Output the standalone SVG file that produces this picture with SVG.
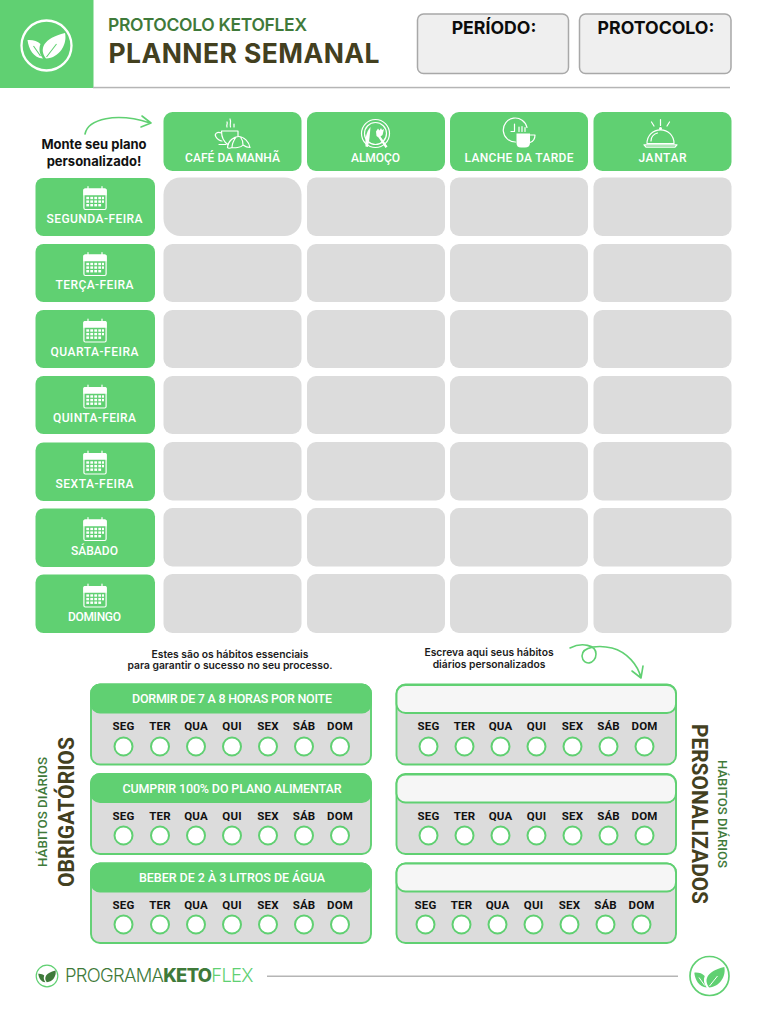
<svg xmlns="http://www.w3.org/2000/svg" width="768" height="1024" viewBox="0 0 768 1024">
<style>
.g{fill:#60d072}
.cell{fill:#dcdcdc}
.tag{fill:#60d072}
.box{fill:#efefef;stroke:#a8a8a8;stroke-width:1.5}
.lbl{font-family:"Roboto","Liberation Sans",sans-serif;font-weight:500;font-size:12px;fill:#fff;text-anchor:middle}
.hab{font-family:"Roboto","Liberation Sans",sans-serif;font-weight:500;font-size:12.5px;fill:#fff;text-anchor:middle}
.d{font-family:"Roboto","Liberation Sans",sans-serif;font-weight:700;font-size:11.5px;fill:#111;text-anchor:middle;letter-spacing:.2px}
.note{font-family:"Inter","Liberation Sans",sans-serif;font-weight:600;font-size:10.3px;fill:#1c1c1c;text-anchor:middle}
.note2{font-family:"Inter","Liberation Sans",sans-serif;font-weight:700;font-size:13px;fill:#111;text-anchor:middle}
.top{font-family:"Inter","Liberation Sans",sans-serif;font-weight:700;font-size:17.7px;fill:#0c0c0c;text-anchor:middle}
.side{font-family:"Roboto","Liberation Sans",sans-serif;font-weight:700;font-size:22.5px;fill:#43401f}
.side2{font-family:"Roboto","Liberation Sans",sans-serif;font-weight:500;font-size:13.5px;fill:#3f7a3a}
.panel{fill:#dcdcdc;stroke:#60d072;stroke-width:1.9}
.hd{fill:#60d072;stroke:#60d072;stroke-width:1.9}
.hc{fill:#f6f6f6;stroke:#60d072;stroke-width:1.9}
.c{fill:#fff;stroke:#60d072;stroke-width:2}
.ic{fill:none;stroke:#fff;stroke-width:1.2;stroke-linecap:round;stroke-linejoin:round}
.icf{fill:#fff}
.arrow{fill:none;stroke:#60d072;stroke-width:1.6;stroke-linecap:round;stroke-linejoin:round}
</style>
<defs>
<g id="cal">
<path class="icf" d="M-11.700 -8.500Q-11.700 -10 -10.200 -10H10.200Q11.700 -10 11.700 -8.500V-3.300H-11.700Z"/>
<rect class="ic" x="-11.100" y="-9.400" width="22.200" height="20.400" rx="1.500"/>
<path class="ic" d="M-7 -12V-9M7 -12V-9"/>
<g class="icf">
<rect x="-8.700" y="-1.700" width="2.800" height="2.400"/><rect x="-4.700" y="-1.700" width="2.800" height="2.400"/><rect x="-.7" y="-1.700" width="2.800" height="2.400"/><rect x="3.300" y="-1.700" width="2.800" height="2.400"/><rect x="7" y="-1.700" width="2" height="2.400"/>
<rect x="-8.700" y="1.900" width="2.800" height="2.400"/><rect x="-4.700" y="1.900" width="2.800" height="2.400"/><rect x="-.7" y="1.900" width="2.800" height="2.400"/><rect x="3.300" y="1.900" width="2.800" height="2.400"/><rect x="7" y="1.900" width="2" height="2.400"/>
<rect x="-8.700" y="5.500" width="2.800" height="2.400"/><rect x="-4.700" y="5.500" width="2.800" height="2.400"/><rect x="-.7" y="5.500" width="2.800" height="2.400"/><rect x="3.300" y="5.500" width="2.800" height="2.400"/>
</g>
</g>
<g id="leaves">
<path d="M-.5 12.500C-8 3 -3 -8 18.500 -13C21 -2 13 12 -.5 12.500Z"/>
<path d="M-3.500 12.500C-13 12 -18 3 -19 -6C-14 -6.500 -9 -5 -6 -2C-8 3 -7 8 -3.500 12.500Z"/>
</g>
</defs>

<g id="header">
<rect class="g" x="0" y="0" width="93.500" height="88"/>
<circle cx="46.500" cy="45.500" r="25" fill="none" stroke="#fff" stroke-width="2.300"/>
<use href="#leaves" transform="translate(46.500,46)" fill="#fff"/>
<path d="M46.500 57L56.500 44M40.500 56L33.500 46" stroke="#60d072" stroke-width="1.100" fill="none"/>
<rect x="93" y="86.800" width="637" height="1.500" fill="#b5b5b5"/>
<text x="108" y="31" font-family="Inter, 'Liberation Sans', sans-serif" font-weight="600" font-size="17.500" fill="#3f7a3a" textLength="199">PROTOCOLO KETOFLEX</text>
<text x="108.500" y="62.500" font-family="Inter, 'Liberation Sans', sans-serif" font-weight="700" font-size="26.500" fill="#43401f" textLength="271">PLANNER SEMANAL</text>
</g>
<g id="periodo"><rect class="box" x="417.500" y="14" width="151" height="59.500" rx="6"/><text class="top" x="494" y="34">PERÍODO:</text></g>
<g id="protocolo"><rect class="box" x="579.500" y="14" width="151.500" height="59.500" rx="6"/><text class="top" x="656" y="34">PROTOCOLO:</text></g>

<g id="monte-note"><text class="note2" x="94" y="149">Monte seu plano</text><text class="note2" x="94" y="166">personalizado!</text></g>

<g id="col-cafe">
<rect class="tag" x="163.500" y="112" width="138" height="59" rx="9"/>
<path class="ic" d="M221.500 131H238V136M221.500 131C221.500 137 224 142 228 144.500M219 144.500H226M221.500 133C217 131 214 134 216 137C217 139 220 141 222 141"/>
<path class="ic" d="M227 127C226 125 228 124 227 122M230.500 127C229.500 124 231.500 122 230 119M234 127V124"/>
<path class="ic" d="M227.500 147.500C228 141 234 136.500 238.500 136.500C244 136.500 249 142 250 147.500C248 147.500 245 146.500 243 145C241 147.800 234 148 232 147.500C230 148.500 228 148.500 227.500 147.500ZM232 147.500C232 143 234 140 236 137M243 145C243 142 242 139 240.500 137"/>
<text class="lbl" x="232.500" y="162" textLength="95">CAFÉ DA MANHÃ</text>
</g>
<g id="col-almoco">
<rect class="tag" x="307" y="112" width="138" height="59" rx="9"/>
<circle class="ic" cx="375.500" cy="133.500" r="14"/><circle class="ic" cx="375.500" cy="133.500" r="11"/>
<path class="icf" d="M370.500 127C366 132 365 139 365.500 146.500L368 147L369.500 138Z"/>
<path class="icf" d="M376 131.500L378 128.500L379.500 130.500L381 128L382 130L384 129L382.500 135L380.500 136.500L387.500 146.500L385.500 148L378.500 137.500L376.500 136Z"/>
<text class="lbl" x="375.500" y="162" textLength="49">ALMOÇO</text>
</g>
<g id="col-lanche">
<rect class="tag" x="450" y="112" width="138" height="59" rx="9"/>
<path class="ic" d="M515.500 142A12 12 0 1 1 527 127.500M514.500 124V131.500H511M519 127V131.500M522 126.500V131.500M525 127.500V131.500"/>
<path class="icf" d="M516.500 133.500H530V143C530 146 528 147.500 525 147.500H521C518 147.500 516.500 146 516.500 143Z"/>
<path class="ic" d="M530 135H535C535 139 533 141.500 530 142.500"/>
<text class="lbl" x="519" y="162" textLength="109">LANCHE DA TARDE</text>
</g>
<g id="col-jantar">
<rect class="tag" x="593.500" y="112" width="138" height="59" rx="9"/>
<path class="ic" d="M647 143.500C647 135.500 653 129.800 660.500 129.800C668 129.800 674 135.500 674 143.500ZM644 144.800H677L675 147.200H646ZM651 141C651 137 654 134 657.500 133"/>
<path class="ic" d="M660.500 119.500V125.500M651.500 122L654 126M669.500 122L667 126"/>
<circle class="icf" cx="660.500" cy="128.500" r="1.500"/>
<text class="lbl" x="662.500" y="162" textLength="48">JANTAR</text>
</g>

<g id="day-segunda"><rect class="tag" x="35.500" y="178" width="119.500" height="58" rx="8"/><use href="#cal" transform="translate(95,198.500)"/><text class="lbl" x="94.500" y="223" textLength="96">SEGUNDA-FEIRA</text></g>
<g id="day-terca"><rect class="tag" x="35.500" y="244" width="119.500" height="58" rx="8"/><use href="#cal" transform="translate(95,264.500)"/><text class="lbl" x="94.500" y="289" textLength="78">TERÇA-FEIRA</text></g>
<g id="day-quarta"><rect class="tag" x="35.500" y="310" width="119.500" height="58" rx="8"/><use href="#cal" transform="translate(95,331)"/><text class="lbl" x="94.500" y="356" textLength="88">QUARTA-FEIRA</text></g>
<g id="day-quinta"><rect class="tag" x="35.500" y="376" width="119.500" height="58" rx="8"/><use href="#cal" transform="translate(95,397)"/><text class="lbl" x="94.500" y="421.500" textLength="83">QUINTA-FEIRA</text></g>
<g id="day-sexta"><rect class="tag" x="35.500" y="442.500" width="119.500" height="58.500" rx="8"/><use href="#cal" transform="translate(95,463)"/><text class="lbl" x="94.500" y="488" textLength="78">SEXTA-FEIRA</text></g>
<g id="day-sabado"><rect class="tag" x="35.500" y="508.500" width="119.500" height="58.500" rx="8"/><use href="#cal" transform="translate(95,529.500)"/><text class="lbl" x="94.500" y="555" textLength="47">SÁBADO</text></g>
<g id="day-domingo"><rect class="tag" x="35.500" y="574.500" width="119.500" height="58.500" rx="8"/><use href="#cal" transform="translate(95,596)"/><text class="lbl" x="94.500" y="621" textLength="53">DOMINGO</text></g>

<g id="cells">
<rect class="cell" x="163.500" y="177.500" width="138" height="58.500" rx="17"/><rect class="cell" x="307" y="177.500" width="138" height="58.500" rx="9"/><rect class="cell" x="450" y="177.500" width="138" height="58.500" rx="9"/><rect class="cell" x="593.500" y="177.500" width="138" height="58.500" rx="9"/>
<rect class="cell" x="163.500" y="244" width="138" height="58" rx="9"/><rect class="cell" x="307" y="244" width="138" height="58" rx="9"/><rect class="cell" x="450" y="244" width="138" height="58" rx="9"/><rect class="cell" x="593.500" y="244" width="138" height="58" rx="9"/>
<rect class="cell" x="163.500" y="310" width="138" height="58" rx="9"/><rect class="cell" x="307" y="310" width="138" height="58" rx="9"/><rect class="cell" x="450" y="310" width="138" height="58" rx="9"/><rect class="cell" x="593.500" y="310" width="138" height="58" rx="9"/>
<rect class="cell" x="163.500" y="376" width="138" height="58" rx="9"/><rect class="cell" x="307" y="376" width="138" height="58" rx="9"/><rect class="cell" x="450" y="376" width="138" height="58" rx="9"/><rect class="cell" x="593.500" y="376" width="138" height="58" rx="9"/>
<rect class="cell" x="163.500" y="442" width="138" height="58.500" rx="9"/><rect class="cell" x="307" y="442" width="138" height="58.500" rx="9"/><rect class="cell" x="450" y="442" width="138" height="58.500" rx="9"/><rect class="cell" x="593.500" y="442" width="138" height="58.500" rx="9"/>
<rect class="cell" x="163.500" y="508" width="138" height="58.500" rx="9"/><rect class="cell" x="307" y="508" width="138" height="58.500" rx="9"/><rect class="cell" x="450" y="508" width="138" height="58.500" rx="9"/><rect class="cell" x="593.500" y="508" width="138" height="58.500" rx="9"/>
<rect class="cell" x="163.500" y="574" width="138" height="59" rx="9"/><rect class="cell" x="307" y="574" width="138" height="59" rx="9"/><rect class="cell" x="450" y="574" width="138" height="59" rx="9"/><rect class="cell" x="593.500" y="574" width="138" height="59" rx="9"/>
</g>

<g id="connectors">
<path class="arrow" d="M85 134C88 119 116 112 150 123M142 116L151 123L141 127"/>
<path class="arrow" d="M570 648C582 642 596 645 596 654C596 664 583 667 582 656C582 646 600 645 612 648C627 652 638 665 641 678M632 671L641 678L643 666"/>
</g>

<g id="note-left"><text class="note" x="230" y="658">Estes são os hábitos essenciais</text><text class="note" x="230" y="669">para garantir o sucesso no seu processo.</text></g>
<g id="note-right"><text class="note" x="489" y="656">Escreva aqui seus hábitos</text><text class="note" x="489" y="668">diários personalizados</text></g>

<g id="habit-1">
<rect class="panel" x="91" y="684.500" width="280" height="80" rx="9"/><rect class="hd" x="91" y="684.500" width="280" height="28" rx="9"/>
<text class="hab" x="232" y="703" textLength="200">DORMIR DE 7 A 8 HORAS POR NOITE</text>
<text class="d" x="123.500" y="730">SEG</text><text class="d" x="160" y="730">TER</text><text class="d" x="196" y="730">QUA</text><text class="d" x="232" y="730">QUI</text><text class="d" x="268" y="730">SEX</text><text class="d" x="304" y="730">SÁB</text><text class="d" x="340" y="730">DOM</text>
<circle class="c" cx="123.500" cy="746.500" r="9"/><circle class="c" cx="160" cy="746.500" r="9"/><circle class="c" cx="196" cy="746.500" r="9"/><circle class="c" cx="232" cy="746.500" r="9"/><circle class="c" cx="268" cy="746.500" r="9"/><circle class="c" cx="304" cy="746.500" r="9"/><circle class="c" cx="340" cy="746.500" r="9"/>
</g>
<g id="habit-2">
<rect class="panel" x="91" y="774" width="280" height="80" rx="9"/><rect class="hd" x="91" y="774" width="280" height="28" rx="9"/>
<text class="hab" x="232" y="792.500" textLength="219">CUMPRIR 100% DO PLANO ALIMENTAR</text>
<text class="d" x="123.500" y="819.500">SEG</text><text class="d" x="160" y="819.500">TER</text><text class="d" x="196" y="819.500">QUA</text><text class="d" x="232" y="819.500">QUI</text><text class="d" x="268" y="819.500">SEX</text><text class="d" x="304" y="819.500">SÁB</text><text class="d" x="340" y="819.500">DOM</text>
<circle class="c" cx="123.500" cy="835.500" r="9"/><circle class="c" cx="160" cy="835.500" r="9"/><circle class="c" cx="196" cy="835.500" r="9"/><circle class="c" cx="232" cy="835.500" r="9"/><circle class="c" cx="268" cy="835.500" r="9"/><circle class="c" cx="304" cy="835.500" r="9"/><circle class="c" cx="340" cy="835.500" r="9"/>
</g>
<g id="habit-3">
<rect class="panel" x="91" y="863.500" width="280" height="79.500" rx="9"/><rect class="hd" x="91" y="863.500" width="280" height="28" rx="9"/>
<text class="hab" x="232" y="882" textLength="186">BEBER DE 2 À 3 LITROS DE ÁGUA</text>
<text class="d" x="123.500" y="909">SEG</text><text class="d" x="160" y="909">TER</text><text class="d" x="196" y="909">QUA</text><text class="d" x="232" y="909">QUI</text><text class="d" x="268" y="909">SEX</text><text class="d" x="304" y="909">SÁB</text><text class="d" x="340" y="909">DOM</text>
<circle class="c" cx="123.500" cy="924.500" r="9"/><circle class="c" cx="160" cy="924.500" r="9"/><circle class="c" cx="196" cy="924.500" r="9"/><circle class="c" cx="232" cy="924.500" r="9"/><circle class="c" cx="268" cy="924.500" r="9"/><circle class="c" cx="304" cy="924.500" r="9"/><circle class="c" cx="340" cy="924.500" r="9"/>
</g>

<g id="custom-1">
<rect class="panel" x="396.500" y="684.500" width="279.500" height="80" rx="9"/><rect class="hc" x="396.500" y="685" width="279.500" height="28" rx="9"/>
<text class="d" x="428.500" y="730">SEG</text><text class="d" x="464.500" y="730">TER</text><text class="d" x="500.500" y="730">QUA</text><text class="d" x="536.500" y="730">QUI</text><text class="d" x="572.500" y="730">SEX</text><text class="d" x="608.500" y="730">SÁB</text><text class="d" x="644.500" y="730">DOM</text>
<circle class="c" cx="428.500" cy="746.500" r="9"/><circle class="c" cx="464.500" cy="746.500" r="9"/><circle class="c" cx="500.500" cy="746.500" r="9"/><circle class="c" cx="536.500" cy="746.500" r="9"/><circle class="c" cx="572.500" cy="746.500" r="9"/><circle class="c" cx="608.500" cy="746.500" r="9"/><circle class="c" cx="644.500" cy="746.500" r="9"/>
</g>
<g id="custom-2">
<rect class="panel" x="396.500" y="774" width="279.500" height="80" rx="9"/><rect class="hc" x="396.500" y="774.500" width="279.500" height="28" rx="9"/>
<text class="d" x="428.500" y="819.500">SEG</text><text class="d" x="464.500" y="819.500">TER</text><text class="d" x="500.500" y="819.500">QUA</text><text class="d" x="536.500" y="819.500">QUI</text><text class="d" x="572.500" y="819.500">SEX</text><text class="d" x="608.500" y="819.500">SÁB</text><text class="d" x="644.500" y="819.500">DOM</text>
<circle class="c" cx="428.500" cy="835.500" r="9"/><circle class="c" cx="464.500" cy="835.500" r="9"/><circle class="c" cx="500.500" cy="835.500" r="9"/><circle class="c" cx="536.500" cy="835.500" r="9"/><circle class="c" cx="572.500" cy="835.500" r="9"/><circle class="c" cx="608.500" cy="835.500" r="9"/><circle class="c" cx="644.500" cy="835.500" r="9"/>
</g>
<g id="custom-3">
<rect class="panel" x="396.500" y="863.500" width="279.500" height="79.500" rx="9"/><rect class="hc" x="396.500" y="863.500" width="279.500" height="28" rx="9"/>
<text class="d" x="425.500" y="909">SEG</text><text class="d" x="461.500" y="909">TER</text><text class="d" x="497.500" y="909">QUA</text><text class="d" x="533.500" y="909">QUI</text><text class="d" x="569.500" y="909">SEX</text><text class="d" x="605.500" y="909">SÁB</text><text class="d" x="641.500" y="909">DOM</text>
<circle class="c" cx="425.500" cy="924.500" r="9"/><circle class="c" cx="461.500" cy="924.500" r="9"/><circle class="c" cx="497.500" cy="924.500" r="9"/><circle class="c" cx="533.500" cy="924.500" r="9"/><circle class="c" cx="569.500" cy="924.500" r="9"/><circle class="c" cx="605.500" cy="924.500" r="9"/><circle class="c" cx="641.500" cy="924.500" r="9"/>
</g>

<g id="side-left">
<text class="side" transform="translate(73.500,887) rotate(-90)" textLength="150" lengthAdjust="spacingAndGlyphs">OBRIGATÓRIOS</text>
<text class="side2" transform="translate(47,867) rotate(-90)" textLength="110" lengthAdjust="spacingAndGlyphs">HÁBITOS DIÁRIOS</text>
</g>
<g id="side-right">
<text class="side" transform="translate(692,724) rotate(90)" textLength="180" lengthAdjust="spacingAndGlyphs">PERSONALIZADOS</text>
<text class="side2" transform="translate(718,760) rotate(90)" textLength="108" lengthAdjust="spacingAndGlyphs">HÁBITOS DIÁRIOS</text>
</g>

<g id="footer">
<circle cx="47" cy="976" r="10.800" fill="#fff" stroke="#60d072" stroke-width="1.200"/>
<use href="#leaves" transform="translate(47,976.500) scale(.46)" fill="#3f7a3a"/>
<text x="65" y="982" font-family="Inter, 'Liberation Sans', sans-serif" font-size="18.400" letter-spacing="-.7"><tspan font-weight="300" fill="#3f7a3a">PROGRAMA</tspan><tspan font-weight="800" fill="#3f7a3a">KETO</tspan><tspan font-weight="300" fill="#60d072">FLEX</tspan></text>
<rect x="267" y="975.500" width="411" height="1.500" fill="#b5b5b5"/>
<circle cx="709.500" cy="976" r="19.500" fill="#fff" stroke="#60d072" stroke-width="1.700"/>
<use href="#leaves" transform="translate(709.500,977.500) scale(.8)" fill="#60d072"/>
<path d="M709.500 986L717.500 976M704.700 985.500L699 977.500" stroke="#fff" stroke-width="1" fill="none"/>
</g>
</svg>
